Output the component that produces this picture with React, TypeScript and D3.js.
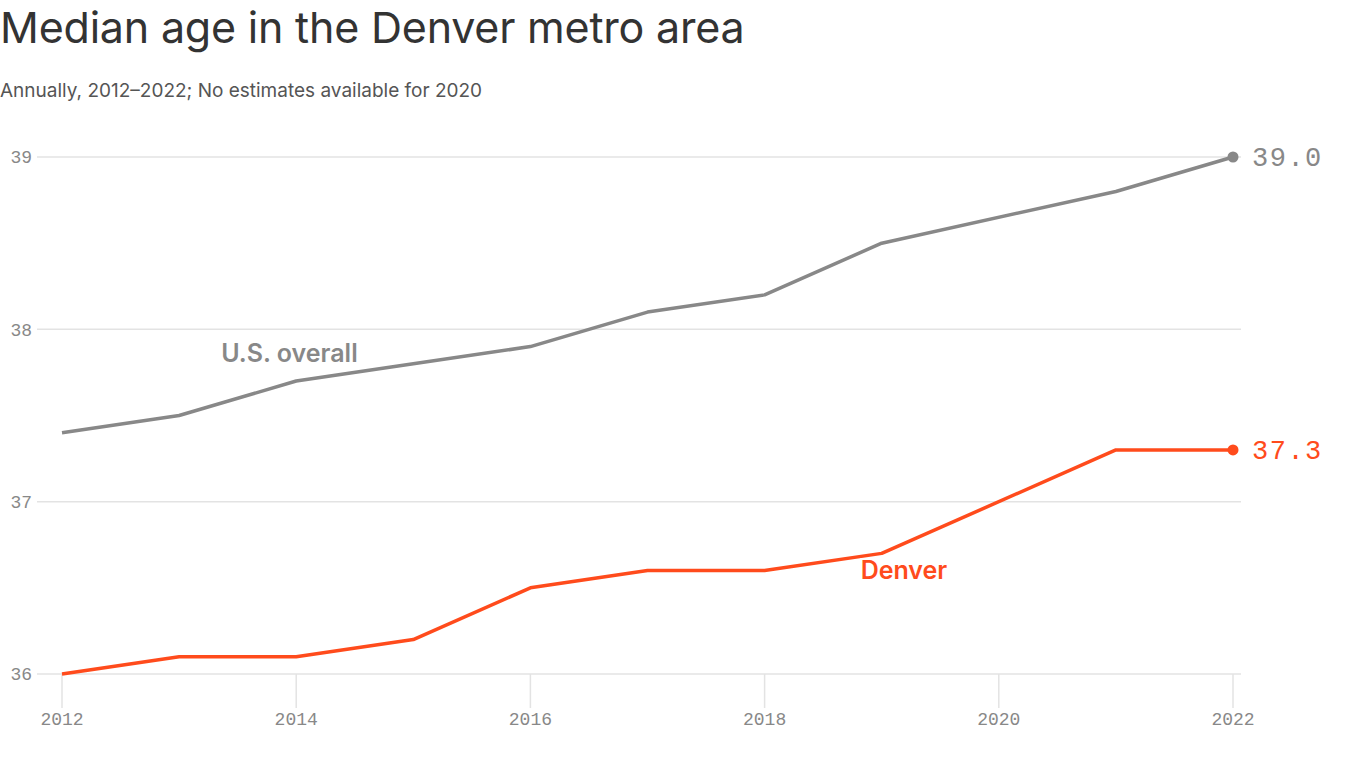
import * as d3 from 'd3'
import React from 'react'

const years = [2012, 2013, 2014, 2015, 2016, 2017, 2018, 2019, 2020, 2021, 2022]
// no estimates for 2020
const usOverall = [37.4, 37.5, 37.7, 37.8, 37.9, 38.1, 38.2, 38.5, null, 38.8, 39.0]
const denver = [36.0, 36.1, 36.1, 36.2, 36.5, 36.6, 36.6, 36.7, null, 37.3, 37.3]
const yTicks = [36, 37, 38, 39]
const xTicks = [2012, 2014, 2016, 2018, 2020, 2022]

const GRAY = '#888888'
const ORANGE = '#ff4b1c'
const MONO = '"Liberation Mono", "DejaVu Sans Mono", monospace'
const SANS = 'Inter, "Noto Sans", sans-serif'

type Pt = { year: number, v: number }

const toPoints = (vals: (number | null)[]): Pt[] =>
  years.map((year, i) => ({ year, v: vals[i] as number })).filter(d => d.v != null)

export default function App() {
  const
    W = 1366, H = 768,
    x = d3.scaleLinear().domain([2012, 2022]).range([62, 1233]),
    y = d3.scaleLinear().domain([36, 39]).range([674, 157]),
    line = d3.line<Pt>().x(d => x(d.year)).y(d => y(d.v)),
    series = [
      { name: 'U.S. overall', pts: toPoints(usOverall), color: GRAY },
      { name: 'Denver', pts: toPoints(denver), color: ORANGE },
    ]

  return (
    <svg width={W} height={H} style={{ position: 'absolute', left: 0, top: 0, background: '#fff' }}>
      <text x={0} y={43} fontFamily={SANS} fontSize={43} fill='#333' letterSpacing={-0.2}>Median age in the Denver metro area</text>
      <text x={0} y={97} fontFamily={SANS} fontSize={19} fill='#555'>Annually, 2012–2022; No estimates available for 2020</text>

      {yTicks.map(t => (
        <g key={t}>
          <line x1={37} x2={1241} y1={y(t)} y2={y(t)} stroke='#e3e3e3' strokeWidth={1.5} />
          <text x={32} y={y(t)} dy='0.35em' textAnchor='end' fontFamily={MONO} fontSize={18} fill={GRAY}>{t}</text>
        </g>
      ))}
      {xTicks.map(t => (
        <g key={t}>
          <line x1={x(t)} x2={x(t)} y1={y(36)} y2={y(36) + 34} stroke='#e3e3e3' strokeWidth={1.5} />
          <text x={x(t)} y={y(36) + 45} dy='0.35em' textAnchor='middle' fontFamily={MONO} fontSize={18} fill={GRAY}>{t}</text>
        </g>
      ))}

      {series.map(s => (
        <path key={s.name} d={line(s.pts) as string} fill='none' stroke={s.color} strokeWidth={3.5} strokeLinejoin='round' />
      ))}

      <text x={x(2013.36)} y={y(37.81)} fontFamily={SANS} fontWeight={600} fontSize={25} fill={GRAY}
        stroke='#fff' strokeWidth={4} paintOrder='stroke'>U.S. overall</text>
      <text x={x(2019.19)} y={y(36.6)} dy='0.35em' textAnchor='middle' fontFamily={SANS} fontWeight={600} fontSize={25} fill={ORANGE}
        stroke='#fff' strokeWidth={4} paintOrder='stroke'>Denver</text>

      {series.map(s => {
        const last = s.pts[s.pts.length - 1]
        return (
          <g key={s.name + '-end'}>
            <circle cx={x(last.year)} cy={y(last.v)} r={5.5} fill={s.color} />
            <text x={x(last.year) + 19} y={y(last.v)} dy='0.35em' fontFamily={MONO} fontSize={27} fill={s.color} letterSpacing={1.5}>
              {last.v.toFixed(1)}
            </text>
          </g>
        )
      })}
    </svg>
  )
}
